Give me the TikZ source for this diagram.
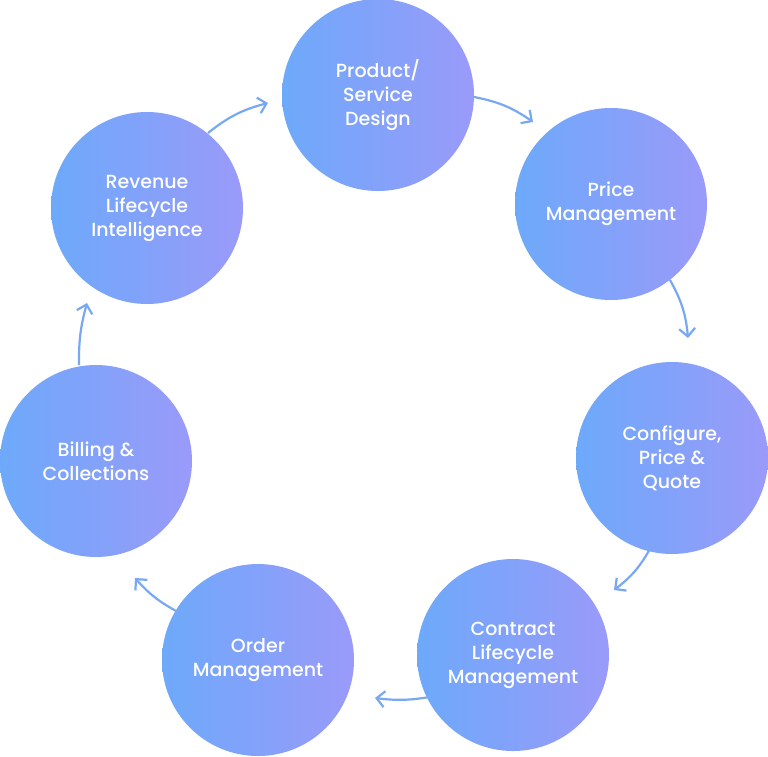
\documentclass[tikz,border=0pt]{standalone}
\usepackage{fontspec}
\setmainfont{Poppins}[UprightFont=* Medium,BoldFont=* SemiBold]
\usetikzlibrary{arrows.meta}
\definecolor{cl}{HTML}{6DA9FA}
\definecolor{cr}{HTML}{9A9AF9}
\definecolor{ac}{HTML}{78A8F2}
\begin{document}
\begin{tikzpicture}[x=1pt,y=-1pt,
  stage/.style={circle,minimum size=192pt,inner sep=0pt,left color=cl,right color=cr,draw=none,
    text=white,font=\fontsize{19}{24}\selectfont,align=center},
  flow/.style={ac,line width=2.2pt,-{Straight Barb[length=8pt,width=16pt]}}]
\useasboundingbox (0,0) rectangle (768,756);
\node[stage] (p) at (378,95) {Product/\\Service\\Design};
\node[stage] (pm) at (611,204) {Price\\Management};
\node[stage] (c) at (672,458) {Configure,\\Price \&\\Quote};
\node[stage] (cl) at (513,655) {Contract\\Lifecycle\\Management};
\node[stage] (o) at (258,660) {Order\\Management};
\node[stage] (b) at (96,461) {Billing \&\\Collections};
\node[stage] (r) at (147,208) {Revenue\\Lifecycle\\Intelligence};
\coordinate (a1s) at (208,133); \coordinate (a1e) at (268,103);
\coordinate (a2s) at (474,97);  \coordinate (a2e) at (533,122);
\coordinate (a3s) at (670,280); \coordinate (a3e) at (688,338);
\coordinate (a4s) at (651,547); \coordinate (a4e) at (614,590);
\coordinate (a5s) at (430,697); \coordinate (a5e) at (375,698);
\coordinate (a6s) at (178,612); \coordinate (a6e) at (135,578);
\coordinate (a7s) at (79,365);  \coordinate (a7e) at (87,303);
\draw[flow] (a1s) to[bend left=12] (a1e);
\draw[flow] (a2s) to[bend left=12] (a2e);
\draw[flow] (a3s) to[bend left=12] (a3e);
\draw[flow] (a4s) to[bend left=12] (a4e);
\draw[flow] (a5s) to[bend left=8] (a5e);
\draw[flow] (a6s) to[bend left=10] (a6e);
\draw[flow] (a7s) to[bend left=8] (a7e);
\end{tikzpicture}
\end{document}
